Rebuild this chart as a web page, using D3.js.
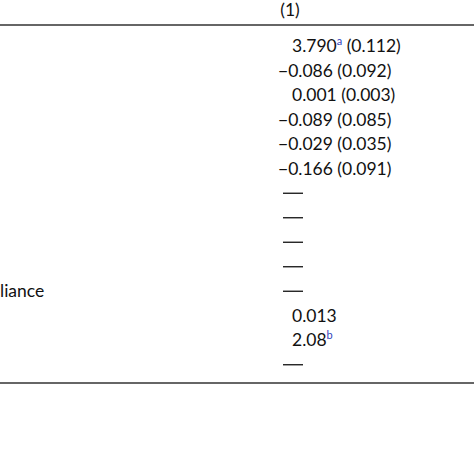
<!DOCTYPE html>
<html><head><meta charset="utf-8">
<script src="https://cdn.jsdelivr.net/npm/d3@7"></script>
<style>body{margin:0;background:#fff}</style></head>
<body><div id="chart"></div>
<script>
const header = "(1)";
const rowLabels = ["", "", "", "", "", "", "", "", "", "", "liance", "", "", ""];
const coefs = ["3.790", "−0.086", "0.001", "−0.089", "−0.029", "−0.166", "—", "—", "—", "—", "—", "0.013", "2.08", "—"];
const ses = ["(0.112)", "(0.092)", "(0.003)", "(0.085)", "(0.035)", "(0.091)", "", "", "", "", "", "", "", ""];
const sups = ["a", "", "", "", "", "", "", "", "", "", "", "", "b", ""];

const W = 474, H = 474;
const svg = d3.select("#chart").append("svg").attr("width", W).attr("height", H)
  .style("font-family", "Lato, 'Open Sans', sans-serif").style("font-size", "17.5px");

const y = d3.scaleBand().domain(d3.range(coefs.length)).range([34, 377]);

svg.append("text").attr("x", 290).attr("y", 16).attr("text-anchor", "middle").attr("fill", "#111").text(header);
svg.append("line").attr("x1", 0).attr("x2", W).attr("y1", 25).attr("y2", 25).attr("stroke", "#333").attr("stroke-width", 1.5);
svg.append("line").attr("x1", 0).attr("x2", W).attr("y1", 383).attr("y2", 383).attr("stroke", "#333").attr("stroke-width", 1.5);

const row = svg.selectAll("g.row").data(coefs).join("g").attr("class", "row")
  .attr("transform", (d, i) => `translate(0,${y(i) + y.bandwidth() / 2 + 6})`);

row.append("text").attr("x", 0).attr("fill", "#111").text((d, i) => rowLabels[i]);

row.each(function(d, i) {
  const g = d3.select(this);
  if (d === "—") {
    g.append("line").attr("x1", 283).attr("x2", 303).attr("y1", -6).attr("y2", -6).attr("stroke", "#111").attr("stroke-width", 1.3);
    return;
  }
  const neg = d.startsWith("−");
  const t = g.append("text").attr("x", neg ? 278 : 292).attr("fill", "#111");
  t.append("tspan").text(d);
  if (sups[i]) t.append("tspan").attr("fill", "#3344bb").attr("font-size", "11px").attr("dy", -7).text(sups[i]);
  if (ses[i]) t.append("tspan").attr("dy", sups[i] ? 7 : 0).text(" " + ses[i]);
});
</script></body></html>
